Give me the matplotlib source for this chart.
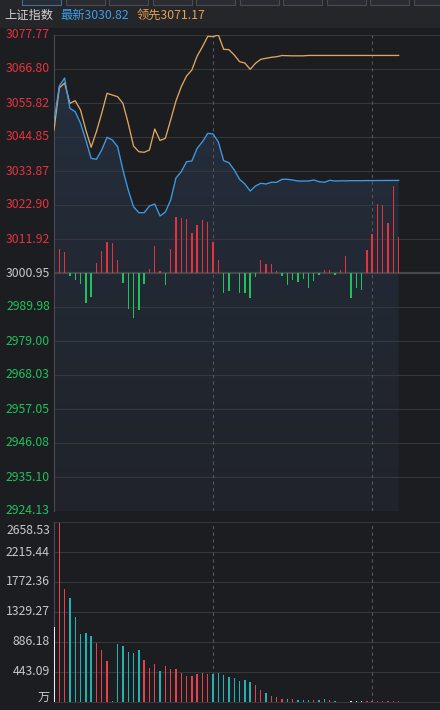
import matplotlib
matplotlib.use("Agg")
import matplotlib.pyplot as plt
from matplotlib.patches import Rectangle
import matplotlib.transforms as mtrans
import numpy as np

plt.rcParams['font.family'] = ['Noto Sans CJK SC', 'DejaVu Sans']

# --- data (one point every 10 s from 9:15:00) ---
price = [3050.01, 3061.31, 3063.89, 3054.11, 3053.01, 3049.27, 3043.88, 3037.97, 3037.65, 3040.65,
         3044.75, 3043.88, 3041.72, 3034.20, 3027.74, 3022.35, 3020.41, 3020.41, 3022.58, 3023.22,
         3019.35, 3020.64, 3024.51, 3031.61, 3033.65, 3036.87, 3037.10, 3041.20, 3043.33, 3046.04,
         3045.82, 3043.23, 3037.20, 3036.55, 3034.20, 3031.19, 3029.68, 3027.42, 3029.03, 3029.90,
         3029.68, 3030.23, 3030.23, 3031.19, 3031.19, 3030.97, 3030.64, 3030.64, 3030.64, 3030.97,
         3030.42, 3030.23, 3030.87, 3030.64, 3030.70, 3030.70, 3030.75, 3030.75, 3030.75, 3030.78,
         3030.78, 3030.80, 3030.80, 3030.82, 3030.82, 3030.82]
lead = [3047.11, 3060.66, 3062.28, 3055.72, 3056.56, 3053.56, 3047.11, 3041.52, 3046.56, 3052.50,
        3058.95, 3058.40, 3057.85, 3055.72, 3049.27, 3041.94, 3040.10, 3039.91, 3040.65, 3047.43,
        3043.72, 3044.43, 3050.33, 3056.47, 3061.08, 3064.54, 3066.47, 3070.99, 3073.99, 3077.35,
        3077.24, 3077.77, 3073.15, 3073.04, 3071.31, 3069.15, 3068.73, 3066.70, 3068.64, 3069.93,
        3070.25, 3070.57, 3070.76, 3071.15, 3071.09, 3071.05, 3071.05, 3071.05, 3071.17, 3071.17,
        3071.17, 3071.17, 3071.17, 3071.17, 3071.17, 3071.17, 3071.17, 3071.17, 3071.17, 3071.17,
        3071.17, 3071.17, 3071.17, 3071.17, 3071.17, 3071.17]
imbalance = [0, 7.7, 6.8, -1.0, -2.3, -3.5, -9.7, -7.7, 3.3, 7.1,
             10.0, 9.7, 4.3, -3.2, -11.5, -14.4, -12.0, -3.5, 1.4, 8.6,
             0.6, -4.0, 7.7, 18.0, 17.8, 17.4, 13.0, 15.5, 17.1, 16.6,
             10.1, 4.2, -6.5, -5.8, 0, -6.6, -6.5, -8.2, -1.3, 4.2,
             2.9, 2.9, 0.6, -1.1, -3.8, -2.2, -2.9, -1.8, -4.7, -2.7,
             -0.6, 1.1, 0.9, -0.5, 1.1, 5.4, -8.1, -4.8, -5.6, 7.3,
             12.6, 22.3, 21.9, 16.2, 28.1, 11.5]
volume = [1112, 2650, 1669, 1531, 1255, 1000, 1019, 980, 876, 768,
          610, 15, 861, 832, 743, 724, 763, 625, 497, 556,
          458, 537, 492, 487, 433, 389, 389, 409, 433, 418,
          413, 433, 404, 374, 355, 315, 325, 300, 256, 177,
          138, 93, 74, 49, 49, 49, 34, 30, 30, 32,
          34, 49, 34, 12, 6, 6, 8, 8, 10, 8,
          8, 8, 8, 8, 8, 8]
# 1 = up (red), -1 = down (teal), 0 = flat (white)
vol_dir = [0, 1, 1, -1, -1, -1, -1, -1, 1, 1,
           1, -1, -1, -1, -1, -1, -1, 1, 1, 1,
           -1, 1, 1, 1, 1, 1, 1, 1, 1, 1,
           -1, -1, -1, -1, -1, -1, -1, -1, 1, 1,
           -1, 1, 1, 1, -1, 1, -1, -1, -1, 1,
           -1, -1, 1, -1, 0, 0, 0, 0, 0, 1,
           1, 1, 1, 1, 1, 1]

price_ticks = ["3077.77", "3066.80", "3055.82", "3044.85", "3033.87", "3022.90", "3011.92", "3000.95",
               "2989.98", "2979.00", "2968.03", "2957.05", "2946.08", "2935.10", "2924.13"]
vol_ticks = ["2658.53", "2215.44", "1772.36", "1329.27", "886.18", "443.09"]
prev_close = 3000.95
dash_idx = [30, 60]  # 9:20, 9:25

BG = '#1c1d21'
GRID = '#36373c'
RED = '#e5323e'
GREEN = '#1fc25a'

x = list(range(len(price)))
xmax = 72.8

fig = plt.figure(figsize=(4.4, 7.1), dpi=100, facecolor=BG)

# header strip and tabs
fig.patches.append(Rectangle((0, 1 - 28 / 710), 1, 28 / 710, transform=fig.transFigure,
                             facecolor='#25262a', edgecolor='none', zorder=0))
for k in range(10):
    x0 = (22 + 43.5 * k) / 440
    ec = '#3d6f9e' if k == 0 else '#4a4b50'
    fig.patches.append(Rectangle((x0, 1 - 5 / 710), 39 / 440, 6 / 710, transform=fig.transFigure,
                                 facecolor='#2b2c31', edgecolor=ec, lw=0.8, zorder=1))
fig.text(4 / 440, 1 - 15 / 710, "上证指数", color='#d0d0d0', fontsize=8.8, va='center')
fig.text(60 / 440, 1 - 15 / 710, "最新3030.82", color='#3c9de8', fontsize=8.8, va='center')
fig.text(137 / 440, 1 - 15 / 710, "领先3071.17", color='#e6a052', fontsize=8.8, va='center')

# main price panel
ax = fig.add_axes([54 / 440, 1 - 511 / 710, 386 / 440, 476 / 710], facecolor=BG)
ymin, ymax = float(price_ticks[-1]), float(price_ticks[0])
ax.set_xlim(0, xmax)
ax.set_ylim(ymin, ymax)
for t in price_ticks:
    v = float(t)
    if t == "3000.95":
        ax.axhline(v, color='#46474c', lw=1.6, zorder=2)
    else:
        ax.axhline(v, color=GRID, lw=0.8, zorder=2)
for d in dash_idx:
    ax.axvline(d, color='#55565b', lw=0.8, ls=(0, (3, 3)), zorder=2)

# area under the price line with a soft vertical gradient
poly = ax.fill_between(x, price, ymin, color='none', lw=0, zorder=1)
grad = np.linspace(1, 0, 256).reshape(-1, 1)
top_c = np.array([0x24, 0x2e, 0x3d]) / 255
bot_c = np.array([0x20, 0x23, 0x29]) / 255
img = top_c * grad[..., None] + bot_c * (1 - grad[..., None])
im = ax.imshow(img, extent=[0, len(x) - 1, ymin, max(price)], aspect='auto', origin='upper', zorder=1)
im.set_clip_path(poly.get_paths()[0], transform=ax.transData)
ax.set_xlim(0, xmax)
ax.set_ylim(ymin, ymax)

bar_col = [RED if v > 0 else GREEN for v in imbalance]
ax.bar(x, imbalance, bottom=prev_close, width=0.26, color=bar_col, zorder=3)
ax.plot(x, lead, color='#e0a55e', lw=0.95, zorder=4)
ax.plot(x, price, color='#3d9be6', lw=0.95, zorder=5)

ax.set_xticks([])
ax.set_yticks([])
for s in ['top', 'right', 'bottom']:
    ax.spines[s].set_visible(False)
ax.spines['left'].set_color('#4a4b50')
ax.spines['left'].set_linewidth(0.8)
ytr = ax.get_yaxis_transform()
for t in price_ticks:
    v = float(t)
    c = RED if v > prev_close + 0.01 else (GREEN if v < prev_close - 0.01 else '#c8c8c8')
    ax.text(-4 / 386, v, t, color=c, fontsize=8.8, ha='right', va='center', transform=ytr)

# volume panel
axv = fig.add_axes([54 / 440, 1 - 702 / 710, 386 / 440, 180 / 710], facecolor=BG)
vmax = float(vol_ticks[0])
axv.set_xlim(0, xmax)
axv.set_ylim(0, vmax)
for t in vol_ticks:
    axv.axhline(float(t), color=GRID, lw=0.8, zorder=1)
for d in dash_idx:
    axv.axvline(d, color='#55565b', lw=0.8, ls=(0, (3, 3)), zorder=1)
vcol = {1: '#e8404c', -1: '#1fb3b3', 0: '#f0f0f0'}
axv.bar(x, volume, width=0.26, color=[vcol[d] for d in vol_dir], zorder=3)
axv.set_xticks([])
axv.set_yticks([])
for s in ['top', 'right']:
    axv.spines[s].set_visible(False)
axv.spines['bottom'].set_color(GRID)
axv.spines['left'].set_color('#4a4b50')
axv.spines['left'].set_linewidth(0.8)
vtr = axv.get_yaxis_transform()
for i, t in enumerate(vol_ticks):
    tr = vtr
    if i == 0:
        tr = mtrans.offset_copy(vtr, fig=fig, y=-8, units='dots')
    axv.text(-4 / 386, float(t), t, color='#c8c8c8', fontsize=8.8, ha='right', va='center', transform=tr)
axv.text(-4 / 386, 0, "万", color='#c8c8c8', fontsize=8.8, ha='right', va='center',
         transform=mtrans.offset_copy(vtr, fig=fig, y=5, units='dots'))

fig.savefig("out.png", dpi=100, facecolor=BG)
